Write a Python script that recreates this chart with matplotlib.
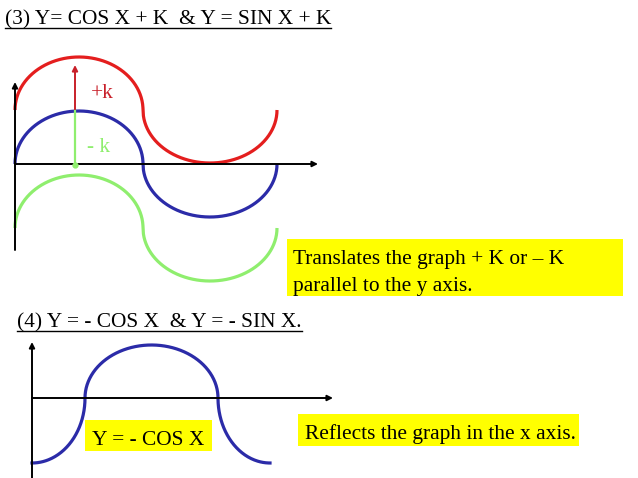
import numpy as np
import matplotlib
matplotlib.use("Agg")
import matplotlib.pyplot as plt
from matplotlib.patches import Rectangle

# ---------------- data (pixel layout of the slide) ----------------
# top graph: sine-like curve drawn as elliptic arcs
top_nodes_x = [15, 143, 277]        # zero crossings of Y = SIN X
top_axis_y = 164
top_amp = 53
shift_up = 54                        # +k
shift_down = 64                      # -k
top_yaxis = (15, 250, 82)            # x, bottom, top
top_xaxis_end = 318
arrow_x = 75

# bottom graph: Y = - COS X
bot_nodes_x = [32, 85, 218, 270]     # trough, zero, zero, trough
bot_axis_y = 398
bot_amp_up = 53
bot_amp_down = 65
bot_yaxis = (32, 478, 342)
bot_xaxis_end = 333

title1 = "(3) Y= COS X + K  & Y = SIN X + K"
title2 = "(4) Y = - COS X  & Y = - SIN X."
box1_lines = ["Translates the graph + K or \u2013 K", "parallel to the y axis."]
box2 = "Reflects the graph in the x axis."
box3 = "Y = - COS X"

RED = "#e41e1e"
DRED = "#c8202a"
BLUE = "#2b2ba8"
GREEN = "#8fee6e"
YELLOW = "#ffff00"

W, H = 638, 478
fig = plt.figure(figsize=(W / 100, H / 100), dpi=100)
ax = fig.add_axes([0, 0, 1, 1])
ax.set_xlim(0, W)
ax.set_ylim(H, 0)
ax.axis("off")

SERIF = ["Liberation Serif", "DejaVu Serif"]
TS = 15.4


def half_arc(x0, x1, base, amp, n=200):
    t = np.linspace(0, np.pi, n)
    xs = (x0 + x1) / 2 - (x1 - x0) / 2 * np.cos(t)
    ys = base - amp * np.sin(t)
    return xs, ys


def quarter_arc_left(x0, x1, base, amp, n=120):
    # trough at x0 (horizontal tangent), zero crossing at x1 (vertical tangent)
    t = np.linspace(0, np.pi / 2, n)
    xs = x0 + (x1 - x0) * np.sin(t)
    ys = base + amp * np.cos(t)
    return xs, ys


def quarter_arc_right(x0, x1, base, amp, n=120):
    # zero crossing at x0 (vertical tangent), trough at x1 (horizontal tangent)
    t = np.linspace(0, np.pi / 2, n)
    xs = x1 - (x1 - x0) * np.cos(t)
    ys = base + amp * np.sin(t)
    return xs, ys


def sine_curve(offset):
    xa, ya = half_arc(top_nodes_x[0], top_nodes_x[1], top_axis_y - offset, top_amp)
    xb, yb = half_arc(top_nodes_x[1], top_nodes_x[2], top_axis_y - offset, -top_amp)
    return np.concatenate([xa, xb]), np.concatenate([ya, yb])


def arrow(x0, y0, x1, y1, color="black", lw=1.4):
    ax.annotate("", xy=(x1, y1), xytext=(x0, y0),
                arrowprops=dict(arrowstyle="-|>", color=color, lw=lw, mutation_scale=8,
                                shrinkA=0, shrinkB=0), zorder=4)


LW = 2.3
for off, col in [(shift_up, RED), (0, BLUE), (-shift_down, GREEN)]:
    xs, ys = sine_curve(off)
    ax.plot(xs, ys, color=col, lw=LW, solid_capstyle="butt", zorder=3)

# top axes
arrow(top_yaxis[0], top_yaxis[1], top_yaxis[0], top_yaxis[2])
arrow(top_yaxis[0], top_axis_y, top_xaxis_end, top_axis_y)

# +k / -k arrows
peak_y = top_axis_y - top_amp
arrow(arrow_x, peak_y, arrow_x, peak_y - shift_up + 8, color=DRED)
ax.plot([arrow_x, arrow_x], [peak_y, top_axis_y + 1], color=GREEN, lw=1.6, zorder=4)
ax.plot([arrow_x], [top_axis_y + 1], marker="o", ms=3.5, color=GREEN, zorder=4)
ax.text(91, 98, "+k", color=DRED, fontsize=TS, family=SERIF, va="baseline", ha="left")
ax.text(87, 152, "- k", color=GREEN, fontsize=TS, family=SERIF, va="baseline", ha="left")

# bottom graph
xq1, yq1 = quarter_arc_left(bot_nodes_x[0], bot_nodes_x[1], bot_axis_y, bot_amp_down)
xh, yh = half_arc(bot_nodes_x[1], bot_nodes_x[2], bot_axis_y, bot_amp_up)
xq2, yq2 = quarter_arc_right(bot_nodes_x[2], bot_nodes_x[3], bot_axis_y, bot_amp_down)
ax.plot(np.concatenate([xq1, xh, xq2]), np.concatenate([yq1, yh, yq2]),
        color=BLUE, lw=LW, zorder=3)

arrow(bot_yaxis[0], bot_yaxis[1], bot_yaxis[0], bot_yaxis[2])
arrow(bot_yaxis[0], bot_axis_y, bot_xaxis_end, bot_axis_y)

# titles with underline
t1 = ax.text(5, 24, title1, fontsize=TS, family=SERIF, va="baseline", ha="left")
t2 = ax.text(17, 327, title2, fontsize=TS, family=SERIF, va="baseline", ha="left")

# yellow boxes
for (x0, y0, x1, y1) in [(287, 239, 623, 296), (298, 414, 579, 446), (85, 420, 212, 451)]:
    ax.add_patch(Rectangle((x0, y0), x1 - x0, y1 - y0, fc=YELLOW, ec="none", zorder=5))
ax.text(293, 264, box1_lines[0], fontsize=TS, family=SERIF, va="baseline", ha="left", zorder=6)
ax.text(293, 291, box1_lines[1], fontsize=TS, family=SERIF, va="baseline", ha="left", zorder=6)
ax.text(305, 439, box2, fontsize=TS, family=SERIF, va="baseline", ha="left", zorder=6)
ax.text(92, 445, box3, fontsize=TS, family=SERIF, va="baseline", ha="left", zorder=6)

fig.canvas.draw()
r = fig.canvas.get_renderer()
inv = ax.transData.inverted()
for t, uy in [(t1, 27.5), (t2, 330.5)]:
    bb = t.get_window_extent(r)
    (x0, _), (x1, _) = inv.transform([(bb.x0, bb.y0), (bb.x1, bb.y1)])
    ax.plot([x0, x1], [uy, uy], color="black", lw=1.0)

fig.savefig("out.png", dpi=100)
